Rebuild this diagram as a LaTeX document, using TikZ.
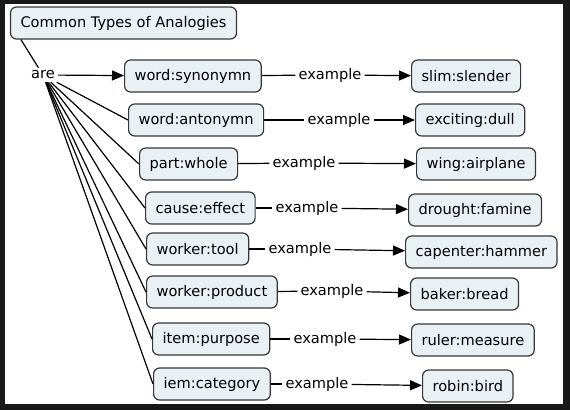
\documentclass[tikz,border=0pt]{standalone}
\usepackage{fontspec}
\setmainfont{DejaVu Sans}
\usepackage{xcolor}
\usetikzlibrary{arrows.meta,positioning}
\definecolor{boxfill}{RGB}{233,241,244}
\definecolor{boxline}{RGB}{55,55,55}
\definecolor{framecol}{RGB}{24,24,24}
\newcommand{\padx}{10pt}
\newcommand{\lw}{1.2pt}

\begin{document}
\begin{tikzpicture}[x=1pt, y=-1pt, line width=\lw,
    font=\fontsize{14.6}{17}\selectfont]
            \tikzset{concept/.style = {draw=boxline, fill=boxfill, rounded corners=6pt,
                inner xsep=\padx, inner ysep=0pt, minimum height=32pt, anchor=west}}
            \tikzset{linkword/.style = {inner sep=2.5pt}}
            \tikzset{link/.style = {-{Triangle[length=12pt,width=10pt]}}}
            \useasboundingbox (0,0) rectangle (570,410);
            \fill[framecol] (0,0) rectangle (570,410);
            \fill[white] (5,4) rectangle (563,404);

            \node[concept, anchor=center] (title) at (123.5,23) {Common Types of Analogies};
            \node[linkword] (are) at (43,75) {are};
            \draw ([xshift=11pt]title.south west) -- (are);

            \node[concept] (synonym) at (124,76) {word:synonymn};
            \node[concept] (antonym) at (128,120) {word:antonymn};
            \node[concept] (partwhole) at (139,164) {part:whole};
            \node[concept] (causeeffect) at (145,208) {cause:effect};
            \node[concept] (workertool) at (146,249) {worker:tool};
            \node[concept] (workerproduct) at (146,292) {worker:product};
            \node[concept] (itempurpose) at (152,339) {item:purpose};
            \node[concept] (iemcategory) at (153,384) {iem:category};

            \node[concept] (slim) at (411,76) {slim:slender};
            \node[concept] (exciting) at (415,120) {exciting:dull};
            \node[concept] (wing) at (416,164) {wing:airplane};
            \node[concept] (drought) at (408,210) {drought:famine};
            \node[concept] (capenter) at (405,252) {capenter:hammer};
            \node[concept] (baker) at (410,294) {baker:bread};
            \node[concept] (ruler) at (411,340) {ruler:measure};
            \node[concept] (robin) at (422,386) {robin:bird};

            \node[linkword] (ex1) at (330,75) {example};
            \node[linkword] (ex2) at (339,120) {example};
            \node[linkword] (ex3) at (304,163) {example};
            \node[linkword] (ex4) at (307,208) {example};
            \node[linkword] (ex5) at (300,249) {example};
            \node[linkword] (ex6) at (332,291) {example};
            \node[linkword] (ex7) at (325,339) {example};
            \node[linkword] (ex8) at (317,384) {example};

            \draw[link] (are) -- (synonym);
            \draw (are) -- (antonym.west);
            \draw (are) -- (partwhole.west);
            \draw (are) -- (causeeffect.west);
            \draw (are) -- (workertool.west);
            \draw (are) -- (workerproduct.west);
            \draw (are) -- (itempurpose.west);
            \draw (are) -- (iemcategory.west);

            \draw (synonym) -- (ex1);        \draw[link] (ex1) -- (slim);
            \draw (antonym) -- (ex2);        \draw[link] (ex2) -- (exciting);
            \draw (partwhole) -- (ex3);      \draw[link] (ex3) -- (wing);
            \draw (causeeffect) -- (ex4);    \draw[link] (ex4) -- (drought);
            \draw (workertool) -- (ex5);     \draw[link] (ex5) -- (capenter);
            \draw (workerproduct) -- (ex6);  \draw[link] (ex6) -- (baker);
            \draw (itempurpose) -- (ex7);    \draw[link] (ex7) -- (ruler);
            \draw (iemcategory) -- (ex8);    \draw[link] (ex8) -- (robin);
        \end{tikzpicture}
\end{document}
